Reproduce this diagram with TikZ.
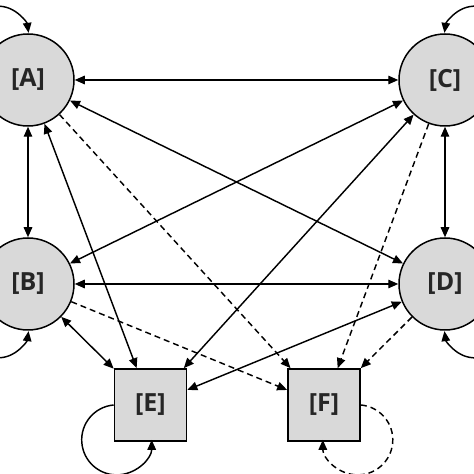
\documentclass[tikz,border=0pt]{standalone}
\usepackage{fontspec}
\setmainfont{Open Sans}
\usetikzlibrary{arrows.meta}
\begin{document}
\begin{tikzpicture}[x=1pt,y=1pt,
  state/.style={circle, draw=black, line width=1.5pt, fill=black!15, minimum size=92pt, inner sep=0pt, font=\fontsize{25}{25}\selectfont\bfseries, text=black!85},
  sbox/.style={rectangle, draw=black, line width=1.7pt, fill=black!15, minimum size=72pt, inner sep=0pt, font=\fontsize{25}{25}\selectfont\bfseries, text=black!85},
  link/.style={line width=1.45pt, {Triangle[length=10pt,width=8.5pt]}-{Triangle[length=10pt,width=8.5pt]}},
  dlink/.style={line width=1.45pt, dash pattern=on 6pt off 4pt, -{Triangle[length=10pt,width=8.5pt]}},
  loopa/.style={line width=1.45pt, -{Triangle[length=10pt,width=8.5pt]}},
]
\useasboundingbox (0,0) rectangle (474,474);
\fill[white] (0,0) rectangle (474,474);
\clip (0,0) rectangle (474,474);
\node[state] (A) at (28,394) {[A]};
\node[state] (C) at (445,394) {[C]};
\node[state] (B) at (28,190) {[B]};
\node[state] (D) at (445,190) {[D]};
\node[sbox] (E) at (150.5,69) {[E]};
\node[sbox] (F) at (324,69) {[F]};
% solid double-headed
\draw[link] (A) -- (C);
\draw[link] (A) -- (B);
\draw[link] (C) -- (D);
\draw[link] (B) -- (D);
\draw[link] (A) -- (D);
\draw[link] (B) -- (C);
\draw[link] (A) -- (E);
\draw[link] (C) -- (E);
\draw[link] (D) -- (E);
\draw[link] (B) -- (E);
% dashed into F
\draw[dlink] (A) -- (F);
\draw[dlink] (B) -- (F);
\draw[dlink] (C) -- (F);
\draw[dlink] (D) -- (F);
% self loops
\draw[loopa] (A.161) arc[start angle=243, end angle=8, radius=31];
\draw[loopa] (C.19) arc[start angle=-63, end angle=172, radius=31];
\draw[loopa] (B.199) arc[start angle=117, end angle=352, radius=31];
\draw[loopa] (D.-19) arc[start angle=63, end angle=-172, radius=31];
\draw[loopa] (E.west) arc[start angle=95, end angle=360, radius=35];
\draw[loopa, dash pattern=on 6pt off 4pt] (F.east) arc[start angle=85, end angle=-180, radius=35];
\end{tikzpicture}
\end{document}
